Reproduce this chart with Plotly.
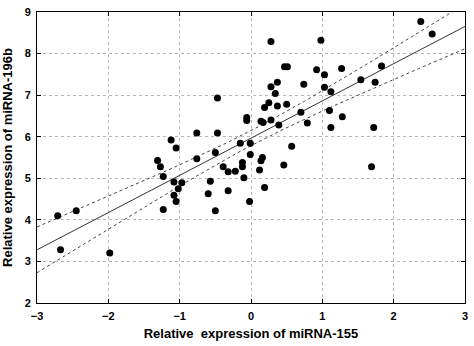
import numpy as np
import plotly.graph_objects as go

mir155 = [2.38, 2.54, 0.28, 0.98, 0.47, 0.51, 0.92, 1.03, 1.27, 1.83,
          1.54, 1.74, 0.37, 0.28, 0.34, 0.74, 1.03, 1.12, 0.25, 0.19,
          0.37, 0.50, -0.06, -0.06, 0.14, 0.17, 0.28, 0.39, 0.70, 0.79,
          1.10, 1.28, 1.12, 1.72, -0.15, -0.01, 0.57, -0.01, 0.16, 0.14,
          -0.12, -0.12, 0.46, 0.12, -0.22, 1.69, -0.10, 0.19, -0.02, -0.32,
          -0.32, -0.47, -0.76, -0.47, -1.12, -1.05, -0.50, -0.76, -1.31, -1.27,
          -0.39, -1.23, -1.08, -0.97, -1.02, -1.08, -0.57, -0.60, -1.05, -1.23,
          -0.50, -2.71, -2.45, -2.67, -1.98]
mir196b = [8.77, 8.47, 8.29, 8.32, 7.68, 7.68, 7.61, 7.49, 7.64, 7.70,
           7.37, 7.31, 7.31, 7.20, 7.04, 7.26, 7.19, 7.08, 6.82, 6.70,
           6.74, 6.78, 6.46, 6.39, 6.37, 6.34, 6.40, 6.28, 6.59, 6.33,
           6.63, 6.48, 6.22, 6.22, 5.84, 5.84, 5.77, 5.57, 5.50, 5.42,
           5.38, 5.28, 5.32, 5.20, 5.17, 5.28, 5.01, 4.78, 4.44, 4.70,
           5.16, 6.93, 6.09, 6.09, 5.92, 5.73, 5.62, 5.47, 5.43, 5.28,
           5.28, 5.04, 4.91, 4.89, 4.75, 4.59, 4.93, 4.63, 4.44, 4.25,
           4.22, 4.10, 4.22, 3.28, 3.20]

x_ticks = [-3, -2, -1, 0, 1, 2, 3]
y_ticks = [2, 3, 4, 5, 6, 7, 8, 9]

x = np.array(mir155)
y = np.array(mir196b)
n = len(x)
slope, intercept = np.polyfit(x, y, 1)
resid = y - (slope * x + intercept)
s = np.sqrt(np.sum(resid ** 2) / (n - 2))
xbar = x.mean()
sxx = np.sum((x - xbar) ** 2)
xf = np.linspace(-3, 3, 121)
yf = slope * xf + intercept
half = 1.99 * s * np.sqrt(1.0 / n + (xf - xbar) ** 2 / sxx)

fig = go.Figure()
fig.add_trace(go.Scatter(x=xf, y=yf, mode="lines",
                         line=dict(color="#333333", width=1), hoverinfo="skip"))
fig.add_trace(go.Scatter(x=xf, y=yf + half, mode="lines",
                         line=dict(color="#444444", width=1, dash="3px,3px"), hoverinfo="skip"))
fig.add_trace(go.Scatter(x=xf, y=yf - half, mode="lines",
                         line=dict(color="#444444", width=1, dash="3px,3px"), hoverinfo="skip"))
fig.add_trace(go.Scatter(x=mir155, y=mir196b, mode="markers",
                         marker=dict(color="black", size=7)))

axis_common = dict(
    showgrid=True, gridcolor="#b8b8b8", griddash="dot", gridwidth=1,
    showline=True, linecolor="black", linewidth=1, mirror="ticks",
    ticks="inside", ticklen=4, tickcolor="black", zeroline=False,
    ticklabelstandoff=3,
    tickfont=dict(family="Liberation Sans, Arial", size=11, color="black", weight="bold"),
)

fig.update_layout(
    width=474, height=346,
    margin=dict(l=37, r=6, t=7, b=43),
    paper_bgcolor="white", plot_bgcolor="white",
    showlegend=False,
    xaxis=dict(range=[-3, 3], tickvals=x_ticks, **axis_common,
               title=dict(text="Relative  expression of miRNA-155", standoff=7,
                          font=dict(family="Liberation Sans, Arial", size=13, color="black", weight="bold"))),
    yaxis=dict(range=[2, 9], tickvals=y_ticks, **axis_common,
               title=dict(text="Relative expression of miRNA-196b", standoff=10,
                          font=dict(family="Liberation Sans, Arial", size=13, color="black", weight="bold"))),
)

fig.write_html("out.html")
